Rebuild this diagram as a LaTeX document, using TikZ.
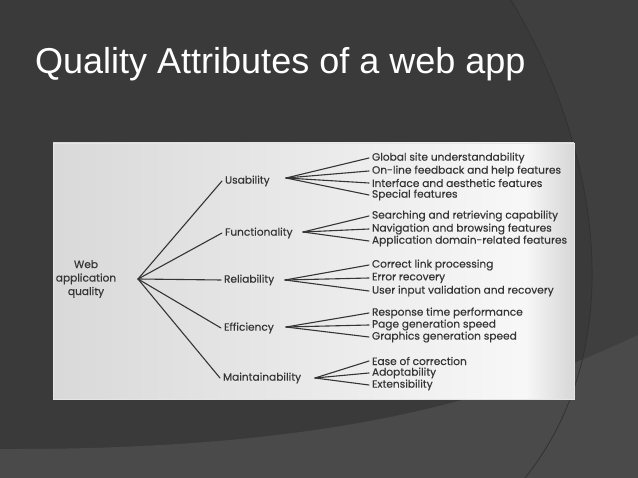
\documentclass[tikz,border=0pt]{standalone}
\usepackage{fontspec}
\setmainfont{Liberation Sans}
\newfontfamily\scanfont[FakeBold=0.35]{Poppins}
\usetikzlibrary{positioning}

\definecolor{slidebg}{HTML}{3A3A3A}
\definecolor{slideside}{HTML}{3F3F3F}
\definecolor{slideband}{HTML}{4A4A4A}
\definecolor{slidearc}{HTML}{323232}
\definecolor{scanink}{HTML}{353535}

\tikzset{
  attr/.style={font=\scanfont\fontsize{10.6}{12}\selectfont, text=scanink,
    inner sep=3pt, outer sep=0pt, anchor=west},
  twig/.style={draw=scanink, line width=1.1pt, line cap=round},
}

\begin{document}
\begin{tikzpicture}[x=1pt,y=-1pt]
  % slide background
  \fill[slidebg] (0,0) rectangle (638,478);
  \useasboundingbox (0,0) rectangle (638,478);
  \fill[slideside] (511,0) .. controls (595,140) and (635,340) .. (525,478)
    -- (638,478) -- (638,0) -- cycle;
  \fill[slideband] (0,449) .. controls (300,450) and (480,410) .. (638,335)
    -- (638,478) -- (0,478) -- cycle;
  \draw[slidearc, line width=0.8pt] (511,0) .. controls (595,140) and (635,340) .. (525,478);

  \node[anchor=base west, text=white, font=\fontsize{36}{40}\selectfont, inner sep=0pt]
    (title) at (35,74) {Quality Attributes of a web app};

  % scanned figure
  \shade[left color=black!15, right color=black!3] (53,143) rectangle (525,399);
  \shade[left color=black!3, right color=black!16] (525,143) rectangle (574,399);
  \draw[white!90!black, line width=0.6pt] (53,143) rectangle (574,399);

  \node[attr, anchor=center, align=center, font=\scanfont\fontsize{10.6}{13.5}\selectfont]
    (quality) at (86,279) {Web\\application\\quality};
  \coordinate (qhub) at (138,279);

  \node[attr] (usab)  at (222,181) {Usability};
  \node[attr] (func)  at (222,233) {Functionality};
  \node[attr] (rel)   at (221,280) {Reliability};
  \node[attr] (eff)   at (221,328) {Efficiency};
  \node[attr] (maint) at (220,378) {Maintainability};

  \draw[twig] (qhub) -- (usab.west);
  \draw[twig] (qhub) -- (func.west);
  \draw[twig] (qhub) -- (rel.west);
  \draw[twig] (qhub) -- (eff.west);
  \draw[twig] (qhub) -- (maint.west);

  \coordinate (uhub) at (286,178);
  \coordinate (fhub) at (303,232);
  \coordinate (rhub) at (285,280);
  \coordinate (ehub) at (286,327);
  \coordinate (mhub) at (315,378);

  \node[attr] (u1) at (369,158) {Global site understandability};
  \node[attr] (u2) at (369,171) {On-line feedback and help features};
  \node[attr] (u3) at (369,183) {Interface and aesthetic features};
  \node[attr] (u4) at (369,195) {Special features};
  \node[attr] (f1) at (369,216) {Searching and retrieving capability};
  \node[attr] (f2) at (369,229) {Navigation and browsing features};
  \node[attr] (f3) at (369,241) {Application domain-related features};
  \node[attr] (r1) at (369,265) {Correct link processing};
  \node[attr] (r2) at (369,278) {Error recovery};
  \node[attr] (r3) at (369,291) {User input validation and recovery};
  \node[attr] (e1) at (369,313) {Response time performance};
  \node[attr] (e2) at (369,325) {Page generation speed};
  \node[attr] (e3) at (369,337) {Graphics generation speed};
  \node[attr] (m1) at (369,361) {Ease of correction};
  \node[attr] (m2) at (369,373) {Adoptability};
  \node[attr] (m3) at (369,385) {Extensibility};

  \draw[twig] (uhub) -- (u1.west);
  \draw[twig] (uhub) -- (u2.west);
  \draw[twig] (uhub) -- (u3.west);
  \draw[twig] (uhub) -- (u4.west);
  \draw[twig] (fhub) -- (f1.west);
  \draw[twig] (fhub) -- (f2.west);
  \draw[twig] (fhub) -- (f3.west);
  \draw[twig] (rhub) -- (r1.west);
  \draw[twig] (rhub) -- (r2.west);
  \draw[twig] (rhub) -- (r3.west);
  \draw[twig] (ehub) -- (e1.west);
  \draw[twig] (ehub) -- (e2.west);
  \draw[twig] (ehub) -- (e3.west);
  \draw[twig] (mhub) -- (m1.west);
  \draw[twig] (mhub) -- (m2.west);
  \draw[twig] (mhub) -- (m3.west);
\end{tikzpicture}
\end{document}
